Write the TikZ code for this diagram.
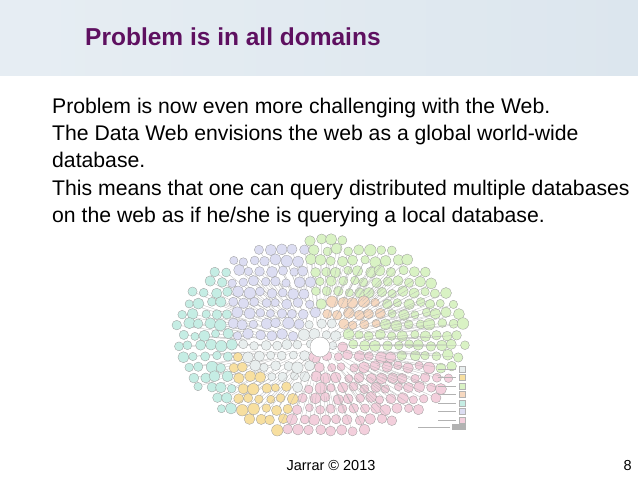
\documentclass[tikz,border=0pt]{standalone}
\usepackage{fontspec}
\usetikzlibrary{calc}
\setmainfont{Liberation Sans}
\definecolor{titlec}{HTML}{5E1060}
\definecolor{hdr}{HTML}{DCE6EE}
\definecolor{c0}{HTML}{C5EDE4}
\definecolor{c1}{HTML}{DCDDF2}
\definecolor{c2}{HTML}{D9F2C4}
\definecolor{c3}{HTML}{F3CFDC}
\definecolor{c4}{HTML}{F7DFA0}
\definecolor{c5}{HTML}{E8EEEE}
\definecolor{c6}{HTML}{F6D8C0}
\begin{document}
\begin{tikzpicture}[x=1pt,y=-1pt,
  body/.style={anchor=base west,font=\fontsize{21.2}{24}\selectfont,inner sep=0},
  bubble/.style={draw=gray!80,line width=0.3pt}]
\useasboundingbox (0,0) rectangle (638,478);
\fill[white] (0,0) rectangle (638,478);
\shade[left color=hdr!70,right color=hdr] (0,0) rectangle (638,76);
\fill[white,opacity=0.5] (0,76) rectangle (638,80);
\node[anchor=base west,inner sep=0,text=titlec,font=\fontsize{24.5}{28}\selectfont\bfseries] (title) at (85,46) {Problem is in all domains};
\node[body] (l1) at (52,114) {Problem is now even more challenging with the Web.};
\node[body] (l2) at (52,141) {The Data Web envisions the web as a global world-wide};
\node[body] (l3) at (52,168) {database.};
\node[body] (l4) at (52,196) {This means that one can query distributed multiple databases};
\node[body] (l5) at (52,223) {on the web as if he/she is querying a local database.};
% cloud
\pgfmathsetseed{7}
\begin{scope}
\foreach \i in {0,...,26}{\foreach \j in {0,...,18}{
  \pgfmathsetmacro\px{176+\i*11+mod(\j,2)*5.5+rnd*3}
  \pgfmathsetmacro\py{238+\j*10.6+rnd*3}
  \pgfmathsetmacro\dd{((\px-321)/146)^2+((\py-337)/99)^2}
  \pgfmathsetmacro\ang{atan2(337-\py,\px-321)}
  \pgfmathtruncatemacro\pch{and(and(\px>325,\px<385),and(\py>298,\py<330))}
  \pgfmathtruncatemacro\k{ifthenelse(\dd<0.03,5,ifthenelse(\px<232,0,ifthenelse(\pch==1,6,ifthenelse(\ang>100,1,ifthenelse(\ang>-15,2,ifthenelse(\ang>-110,3,ifthenelse(\dd<0.3,5,4)))))))}
  \pgfmathsetmacro\rr{4+rnd*1.8}
  \ifdim\dd pt<1pt
    \draw[gray!60,line width=0.25pt] (\px,\py) -- ($(\px,\py)!0.4!(320,345)$);
    \fill[bubble,fill=c\k] (\px,\py) circle (\rr);
  \fi
}}
\end{scope}
\node[circle,draw=gray!70,fill=white,minimum size=20pt,inner sep=0] (hub) at (320,347) {};
% legend
\foreach \n/\c in {0/c5,1/c4,2/c2,3/c6,4/c0,5/c1,6/c3}{
  \fill[fill=\c,draw=gray!60,line width=0.2pt] (459,366+\n*8.5) rectangle (465,372+\n*8.5);
  \draw[gray!60,line width=0.8pt] (438,369+\n*8.5) -- (456,369+\n*8.5);
}
\draw[gray!60,line width=0.8pt] (418,427) -- (450,427);
\fill[gray!60] (452,424) rectangle (466,430);
\node[anchor=base,inner sep=0,font=\fontsize{14.5}{16}\selectfont] (foot) at (331,471) {Jarrar © 2013};
\node[anchor=base east,inner sep=0,font=\fontsize{14.5}{16}\selectfont] (pg) at (632,471) {8};
\end{tikzpicture}
\end{document}
